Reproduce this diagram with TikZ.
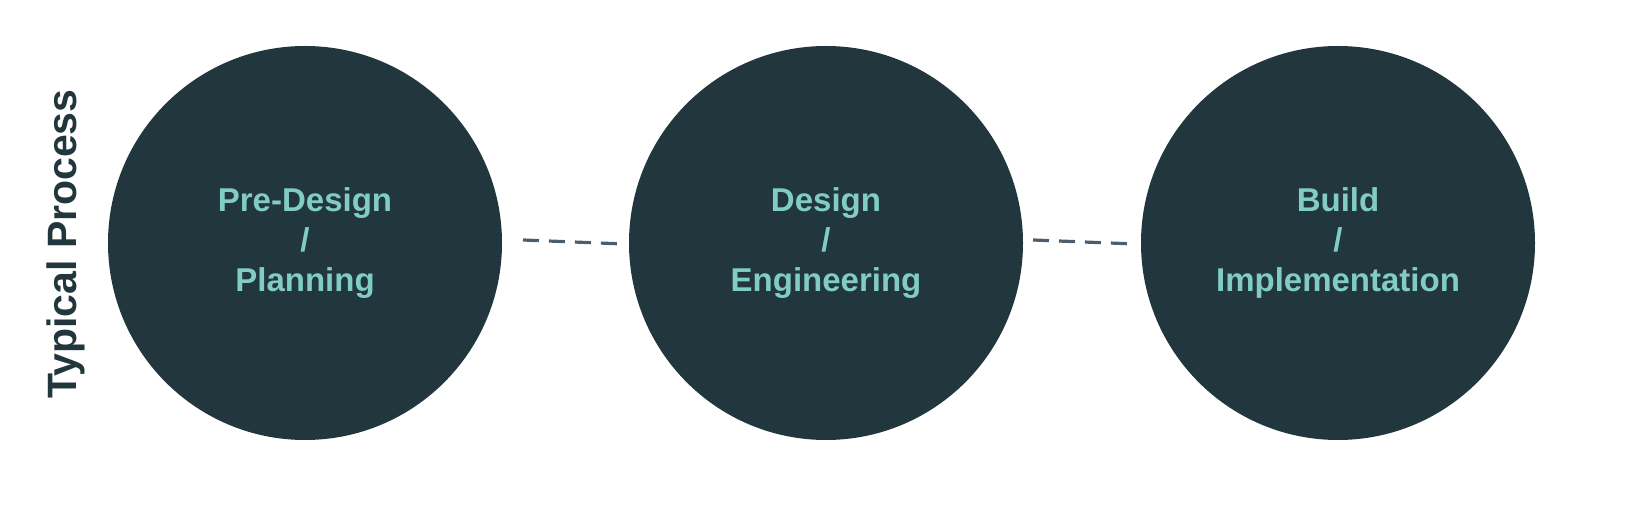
\documentclass[tikz,border=0pt]{standalone}
\usepackage{fontspec}
\setmainfont{Liberation Sans}
\definecolor{circ}{HTML}{21363D}
\definecolor{txt}{HTML}{82CCC6}
\definecolor{dash}{HTML}{4C5E6E}
\begin{document}
\begin{tikzpicture}[x=1pt,y=1pt,
  stage/.style={circle,fill=circ,minimum size=394pt,inner sep=0pt,text=txt,font=\fontsize{33}{40}\selectfont\bfseries,align=center},
  link/.style={draw=dash,line width=3.2pt,dash pattern=on 16pt off 10pt}]
\useasboundingbox (0,0) rectangle (1642,516);
\node[stage] (a) at (305,273) {Pre-Design\\/\\Planning};
\node[stage] (b) at (826,273) {Design\\/\\Engineering};
\node[stage] (c) at (1338,273) {Build\\/\\Implementation};
\node[rotate=90,text=circ,font=\fontsize{41}{48}\selectfont\bfseries] (t) at (66,272) {Typical Process};
\coordinate (a1) at (523,276); \coordinate (b1) at (624,272);
\coordinate (b2) at (1033,276); \coordinate (c1) at (1135,272);
\draw[link] (a1) -- (b1);
\draw[link] (b2) -- (c1);
\end{tikzpicture}
\end{document}
